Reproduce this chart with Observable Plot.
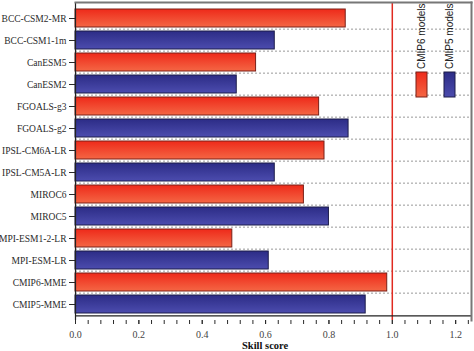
<!DOCTYPE html>
<html>
<head>
<meta charset="utf-8">
<script src="https://cdn.jsdelivr.net/npm/d3@7"></script>
<script src="https://cdn.jsdelivr.net/npm/@observablehq/plot@0.6"></script>
<style>
  html, body { margin: 0; padding: 0; background: #fff; }
  #chart { position: relative; width: 474px; height: 351px; }
  #chart svg text { font-family: "Liberation Serif", serif; }
  #chart svg .legend text { font-family: "Liberation Sans", sans-serif; }
</style>
</head>
<body>
<div id="chart"></div>
<script>
const models = ["BCC-CSM2-MR","BCC-CSM1-1m","CanESM5","CanESM2","FGOALS-g3","FGOALS-g2","IPSL-CM6A-LR","IPSL-CM5A-LR","MIROC6","MIROC5","MPI-ESM1-2-LR","MPI-ESM-LR","CMIP6-MME","CMIP5-MME"];
const scores = [0.853,0.629,0.570,0.509,0.769,0.862,0.786,0.629,0.721,0.800,0.495,0.610,0.984,0.916];
const groups = ["CMIP6","CMIP5","CMIP6","CMIP5","CMIP6","CMIP5","CMIP6","CMIP5","CMIP6","CMIP5","CMIP6","CMIP5","CMIP6","CMIP5"];
const legendLabels = ["CMIP6 models","CMIP5 models"];
const majorTicks = [0,0.2,0.4,0.6,0.8,1.0,1.2];
const minorTicks = d3.range(0, 1.2401, 0.04);
const referenceLine = [1.0];
const xLabel = "Skill score";

const data = models.map((m,i)=>({model:m, score:scores[i], group:groups[i]}));
const W = 474, H = 351, mt = 2, mb = 31, ml = 75, mr = 3;
const step = (H - mt - mb) / models.length;

const plot = Plot.plot({
  width: W, height: H,
  marginLeft: ml, marginRight: mr, marginTop: mt, marginBottom: mb,
  style: {fontFamily: "Liberation Serif, serif", fontSize: "9.5px", color: "#2a2a2a", background: "#fff"},
  x: {domain: [0, 1.25]},
  y: {domain: models, padding: 0.16},
  marks: [
    Plot.ruleY(models.slice(1), {y: d=>d, dy: -step/2, stroke: "#999", strokeDasharray: "2,2", strokeWidth: 1}),
    Plot.barX(data.filter(d=>d.group==="CMIP6"), {y:"model", x:"score", fill:"url(#gradRed)", stroke:"#7a2018", strokeWidth:1}),
    Plot.barX(data.filter(d=>d.group==="CMIP5"), {y:"model", x:"score", fill:"url(#gradBlue)", stroke:"#1c1c4a", strokeWidth:1}),
    Plot.ruleX(referenceLine, {stroke:"#e02a20", strokeWidth:1.5}),
    Plot.axisY({tickSize: 6, tickPadding: 3, label: null, fontSize: 9.5}),
    Plot.axisX({ticks: minorTicks, tickSize: 4, tickFormat: () => "", label: null}),
    Plot.axisX({ticks: majorTicks, tickSize: 4, tickPadding: 6, tickFormat: d3.format(".1f"), label: null, fontSize: 10, fill: "#444"}),
    Plot.ruleX([0], {stroke:"#222", strokeWidth:1.2}),
    Plot.ruleY([models[models.length-1]], {dy: step/2, stroke:"#222", strokeWidth:1.2}),
    Plot.frame({anchor:"top", stroke:"#777", strokeWidth:2}),
    Plot.frame({anchor:"right", stroke:"#777", strokeWidth:2})
  ]
});

const svg = d3.select(plot);
const defs = svg.insert("defs", ":first-child");
const gr = defs.append("linearGradient").attr("id","gradRed").attr("x1",0).attr("y1",0).attr("x2",0).attr("y2",1);
gr.append("stop").attr("offset","0%").attr("stop-color","#ee2a1a");
gr.append("stop").attr("offset","100%").attr("stop-color","#f46644");
const gb = defs.append("linearGradient").attr("id","gradBlue").attr("x1",0).attr("y1",0).attr("x2",0).attr("y2",1);
gb.append("stop").attr("offset","0%").attr("stop-color","#2c2c86");
gb.append("stop").attr("offset","100%").attr("stop-color","#4c4cae");

// axis title
svg.append("text").attr("x", ml + 0.6 * (W-ml-mr)/1.25).attr("y", H-2)
  .attr("text-anchor","middle").attr("font-weight","bold")
  .attr("font-size","10.5px").attr("fill","#111").text(xLabel);

// legend
const lg = svg.append("g").attr("class","legend").attr("font-size","10px").attr("fill","#222").attr("text-anchor","start");
const lx = [421, 449];
const fills = ["url(#gradRed)","url(#gradBlue)"];
const strokes = ["#7a2018","#1c1c4a"];
legendLabels.forEach((t,i)=>{
  lg.append("text").attr("transform",`translate(${lx[i]+4},69) rotate(-90)`).text(t);
  lg.append("rect").attr("x",lx[i]-5).attr("y",72).attr("width",11).attr("height",25)
    .attr("fill",fills[i]).attr("stroke",strokes[i]);
});

document.getElementById("chart").appendChild(plot);
</script>
</body>
</html>
